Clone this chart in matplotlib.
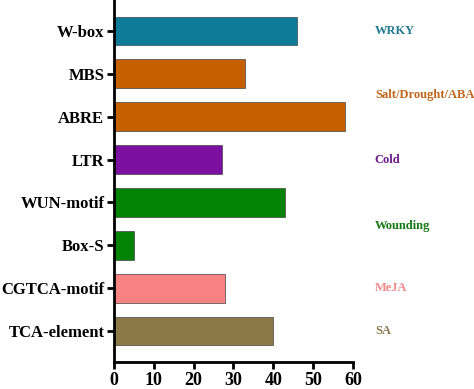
import matplotlib.pyplot as plt

plt.rcParams.update({
    "font.family": "Liberation Serif",
    "font.weight": "bold",
})

# data
elements = ["W-box", "MBS", "ABRE", "LTR", "WUN-motif", "Box-S", "CGTCA-motif", "TCA-element"]
counts = [46, 33, 58, 27, 43, 5, 28, 40]
colors = ["#0e7c98", "#c65f00", "#c65f00", "#7b0f9f", "#038203", "#038203", "#f98383", "#8b7a47"]

groups = ["WRKY", "Salt/Drought/ABA", "Cold", "Wounding", "MeJA", "SA"]
group_y = [0, 1.5, 3, 4.55, 6, 7]
group_colors = ["#1f7a93", "#c0661a", "#6b1a8c", "#167a16", "#ef8a8a", "#8a7a50"]

fig = plt.figure(figsize=(4.74, 3.89), dpi=100)
ax = fig.add_axes([0.2405, 0.0694, 0.504, 0.9306])

y = list(range(len(elements)))
ax.barh(y, counts, height=0.67, color=colors, edgecolor="#444444", linewidth=0.5)

ax.set_ylim(len(elements) - 0.28, -0.72)
ax.set_xlim(0, 60)
ax.set_xticks([0, 10, 20, 30, 40, 50, 60])
ax.set_yticks(y)
ax.set_yticklabels(elements)

for s in ["top", "right"]:
    ax.spines[s].set_visible(False)
for s in ["left", "bottom"]:
    ax.spines[s].set_linewidth(2)
ax.tick_params(axis="y", width=2, length=5, labelsize=12, pad=2)
ax.tick_params(axis="x", width=2, length=5, labelsize=13, pad=2)

for g, gy, gc in zip(groups, group_y, group_colors):
    ax.text(1.092, gy, g, transform=ax.get_yaxis_transform(), color=gc,
            fontsize=9, fontweight="bold", va="center", ha="left")

plt.savefig("out.png", dpi=100)
